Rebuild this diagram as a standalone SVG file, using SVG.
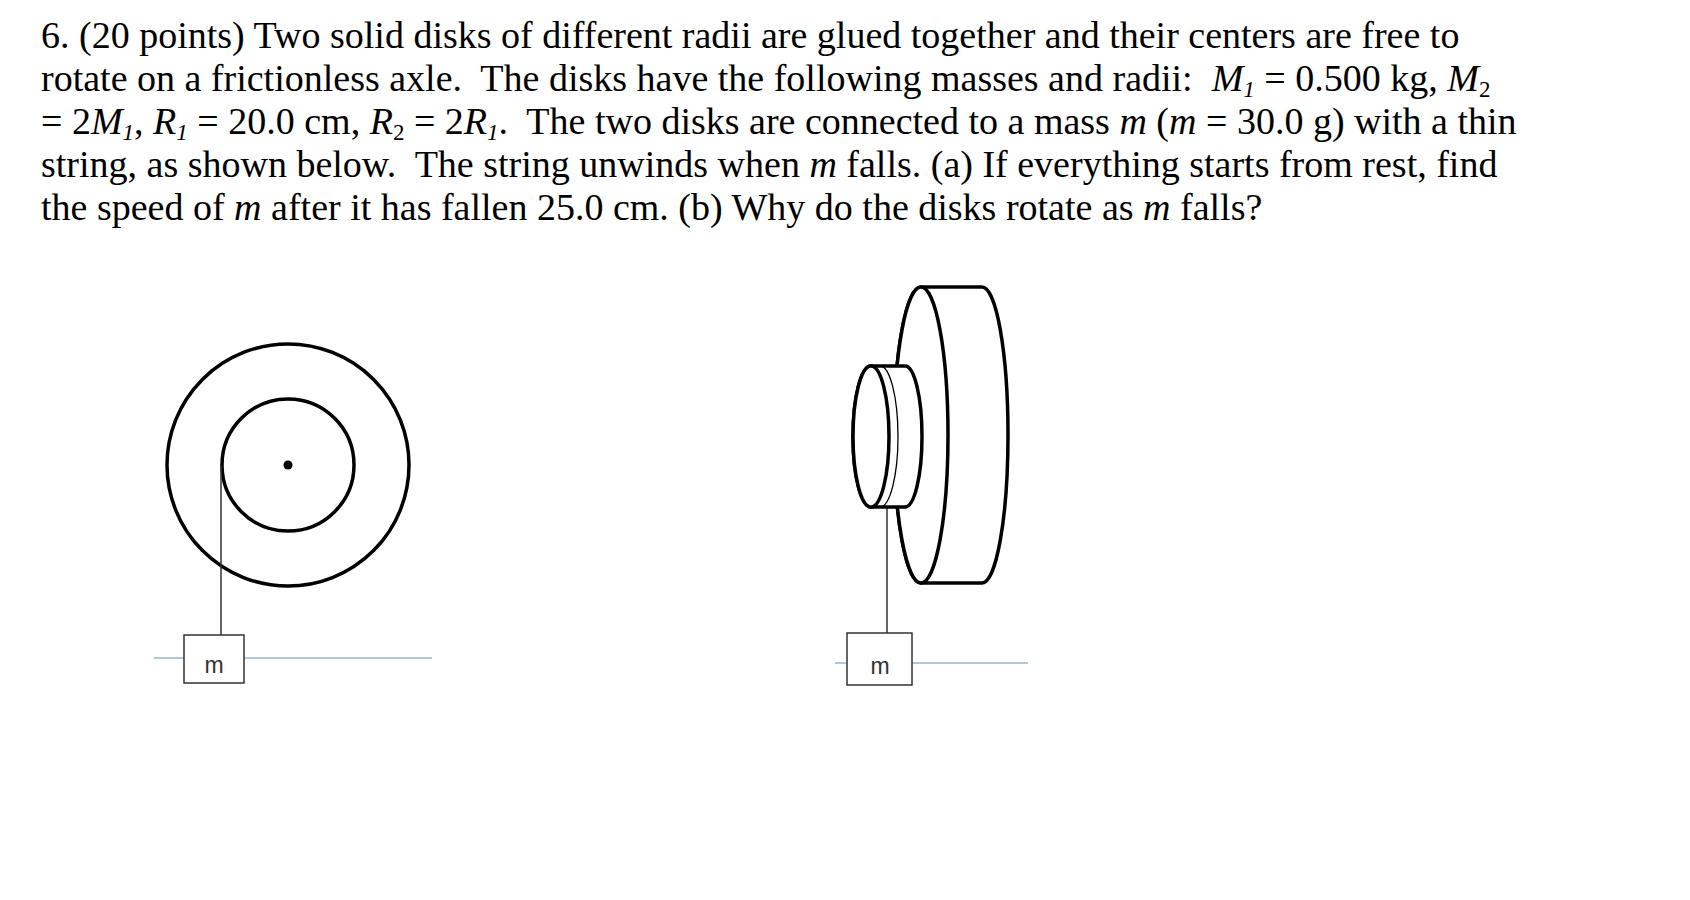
<svg xmlns="http://www.w3.org/2000/svg" width="1690" height="900" viewBox="0 0 1690 900">
<style>
.t{font-family:"Liberation Serif",serif;font-size:38px;fill:#000;white-space:pre}
.i{font-style:italic}
.s{font-size:23px}
.k{fill:#fff;stroke:#000;stroke-width:3.5}
.th{fill:none;stroke:#000;stroke-width:1.3}
.bl{stroke:#9ab6c8;stroke-width:1.5}
.box{fill:#fff;stroke:#333;stroke-width:1.5}
.m{font-family:"Liberation Sans",sans-serif;font-size:23px;fill:#333;text-anchor:middle}
</style>
<rect width="1690" height="900" fill="#fff"/>
<g id="text" xml:space="preserve">
<text class="t" x="41" y="48">6. (20 points) Two solid disks of different radii are glued together and their centers are free to</text>
<text class="t" x="41" y="91">rotate on a frictionless axle.  The disks have the following masses and radii:  <tspan class="i">M</tspan><tspan class="i s" dy="6">1</tspan><tspan dy="-6"> = 0.500 kg, </tspan><tspan class="i">M</tspan><tspan class="s" dy="6">2</tspan></text>
<text class="t" x="41" y="134">= 2<tspan class="i">M</tspan><tspan class="i s" dy="6">1</tspan><tspan dy="-6">, </tspan><tspan class="i">R</tspan><tspan class="i s" dy="6">1</tspan><tspan dy="-6"> = 20.0 cm, </tspan><tspan class="i">R</tspan><tspan class="s" dy="6">2</tspan><tspan dy="-6"> = 2</tspan><tspan class="i">R</tspan><tspan class="i s" dy="6">1</tspan><tspan dy="-6">.  The two disks are connected to a mass </tspan><tspan class="i">m</tspan> (<tspan class="i">m</tspan> = 30.0 g) with a thin</text>
<text class="t" x="41" y="177">string, as shown below.  The string unwinds when <tspan class="i">m</tspan> falls. (a) If everything starts from rest, find</text>
<text class="t" x="41" y="220">the speed of <tspan class="i">m</tspan> after it has fallen 25.0 cm. (b) Why do the disks rotate as <tspan class="i">m</tspan> falls?</text>
</g>
<g id="front-view">
<line class="bl" x1="154" y1="658" x2="432" y2="658"/>
<circle cx="288" cy="465" r="121" fill="none" stroke="#000" stroke-width="3.5"/>
<circle cx="288" cy="465" r="66" fill="none" stroke="#000" stroke-width="3.5"/>
<circle cx="288" cy="465" r="4.5" fill="#000"/>
<line x1="221" y1="465" x2="221" y2="635" stroke="#333" stroke-width="1.5"/>
<rect class="box" x="184" y="635" width="60" height="48"/>
<text class="m" x="214" y="673">m</text>
</g>
<g id="side-view">
<line class="bl" x1="835" y1="663" x2="1028" y2="663"/>
<path class="k" d="M921 287 L982 287 A26 148 0 0 1 982 583 L921 583 A27 148 0 0 1 921 287 Z"/>
<ellipse class="k" cx="921" cy="435" rx="27" ry="148"/>
<line x1="887" y1="507" x2="887" y2="633" stroke="#333" stroke-width="1.5"/>
<path class="k" d="M871 366 L905 366 A17 70.5 0 0 1 905 507 L871 507 A18 70.5 0 0 1 871 366 Z"/>
<path class="th" d="M880 366 A18 70.5 0 0 1 880 507"/>
<ellipse class="k" cx="871" cy="436.5" rx="18" ry="70.5"/>
<rect class="box" x="847" y="633" width="65" height="52"/>
<text class="m" x="880" y="674">m</text>
</g>
</svg>
